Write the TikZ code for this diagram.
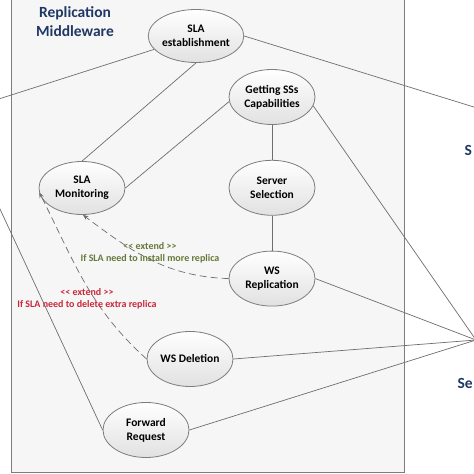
\documentclass[tikz,border=0pt]{standalone}
\usepackage{fontspec}
\setmainfont{Carlito}
\usepackage{xcolor}
\usepackage{tikz}
\usetikzlibrary{positioning, arrows.meta, shapes.geometric}

\definecolor{navy}{RGB}{31,56,100}
\definecolor{linegray}{RGB}{110,110,110}
\definecolor{ucborder}{RGB}{125,125,125}
\definecolor{ucfill}{RGB}{225,225,225}
\definecolor{boxfill}{RGB}{246,246,246}
\definecolor{olivetext}{RGB}{104,120,60}
\definecolor{redtext}{RGB}{200,40,60}

\begin{document}
\begin{tikzpicture}[ x = 1pt, y = 1pt
                     , node distance = 35pt
                     , >={Stealth[width=4.5pt, length=5.5pt]}
                     , usecase/.style = { ellipse
                                        , draw = ucborder
                                        , line width = 0.8pt
                                        , top color = white
                                        , bottom color = ucfill
                                        , align = center
                                        , inner sep = 0pt
                                        , minimum width = 86pt
                                        , minimum height = 55pt
                                        , font = \bfseries\fontsize{11.5}{14}\selectfont }
                     , heading/.style = { text = navy
                                        , align = center
                                        , font = \bfseries\fontsize{15.5}{19}\selectfont }
                     , link/.style = { draw = linegray, line width = 0.7pt }
                     , extend/.style = { link, ->, dash pattern = on 7pt off 4pt }
                     ]

  \useasboundingbox (0,0) rectangle (474,474);
  \fill[white] (0,0) rectangle (474,474);
  \draw[fill = boxfill, draw = ucborder, line width = 1pt] (11,1) rectangle (404,480);

  \node (title) [heading] at (75,452.5) {Replication\\Middleware};

  \node (sla) [usecase, minimum width = 95pt, minimum height = 53pt] at (196,438) {SLA\\establishment};
  \node (getss) [usecase] at (272,377) {Getting SSs\\Capabilities};
  \node (select) [usecase, below = of getss] {Server\\Selection};
  \node (wsrep) [usecase, below = of select] {WS\\Replication};
  \node (monitor) [usecase, minimum height = 53pt] at (82,286) {SLA\\Monitoring};
  \node (wsdel) [usecase] at (190,115) {WS Deletion};
  \node (forward) [usecase] at (146,44) {Forward\\Request};

  % actors lie outside the frame
  \coordinate (clienttop) at (-20,369);
  \coordinate (clientlow) at (-20,308);
  \coordinate (provider) at (490,362);
  \coordinate (broker) at (476,134);
  \node (providerlbl) [heading, anchor = west] at (461,324) {S};
  \node (brokerlbl) [heading, anchor = west] at (454,91) {Se};

  \draw[link] (clienttop) -- (sla);
  \draw[link] (clientlow) -- (forward.west);
  \draw[link] (sla.east) -- (provider);
  \draw[link] (sla.south) -- (monitor.north);
  \draw[link] (getss.186) -- (monitor.east);
  \draw[link] (getss) -- (select);
  \draw[link] (select) -- (wsrep);
  \draw[link] (getss.-12) -- (broker);
  \draw[link] (wsrep.east) -- (broker);
  \draw[link] (wsdel.east) -- (broker);
  \draw[link] (forward.east) -- (broker);

  \draw[extend] (wsrep.west) to[out=178, in=-37] (monitor.-88);
  \draw[extend] (wsdel.west) to[out=138, in=-63] (monitor.186);

  \tikzset{every node/.style = { align = center
                               , font = \bfseries\fontsize{10}{12}\selectfont }}

  \node (installlbl) [text = olivetext] at (150,221)
    {<{}< extend >{}>\\If SLA need to install more replica};
  \node (deletelbl) [text = redtext] at (87,175.5)
    {<{}< extend >{}>\\If SLA need to delete extra replica};

\end{tikzpicture}
\end{document}
